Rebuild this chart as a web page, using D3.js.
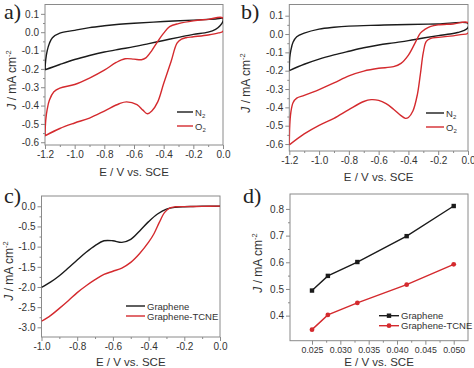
<!DOCTYPE html>
<html><head><meta charset="utf-8">
<script src="https://cdn.jsdelivr.net/npm/d3@7"></script>
<style>body{margin:0;background:#fff}svg{display:block}</style>
</head><body><svg id="c" width="474" height="368"></svg>
<script>
// ---------- DATA ----------
// Panel a (CV, closed loop: forward then backward)
const aN2E = [-1.2,-1.195,-1.185,-1.17,-1.15,-1.1,-1.0,-0.9,-0.8,-0.7,-0.6,-0.4,-0.2,-0.05,0.0, 0.0,-0.02,-0.05,-0.1,-0.2,-0.3,-0.4,-0.5,-0.6,-0.7,-0.8,-0.9,-1.0,-1.1,-1.2];
const aN2J = [-0.205,-0.15,-0.10,-0.06,-0.03,-0.005,0.010,0.025,0.035,0.043,0.049,0.058,0.066,0.072,0.075, 0.06,0.035,0.015,0.0,-0.012,-0.028,-0.045,-0.062,-0.079,-0.093,-0.108,-0.127,-0.149,-0.176,-0.205];
const aO2E = [-1.2,-1.195,-1.185,-1.17,-1.14,-1.1,-1.0,-0.9,-0.8,-0.72,-0.66,-0.6,-0.55,-0.52,-0.48,-0.44,-0.4,-0.36,-0.3,-0.2,-0.1,0.0, 0.0,-0.03,-0.1,-0.2,-0.25,-0.28,-0.31,-0.35,-0.4,-0.44,-0.48,-0.51,-0.54,-0.58,-0.65,-0.7,-0.8,-0.9,-1.0,-1.1,-1.2];
const aO2J = [-0.565,-0.48,-0.42,-0.37,-0.325,-0.305,-0.285,-0.25,-0.207,-0.165,-0.145,-0.147,-0.15,-0.14,-0.10,-0.05,-0.005,0.03,0.047,0.062,0.07,0.078, 0.005,-0.004,-0.015,-0.025,-0.03,-0.038,-0.06,-0.16,-0.28,-0.38,-0.43,-0.445,-0.425,-0.395,-0.38,-0.39,-0.43,-0.468,-0.495,-0.525,-0.565];
// Panel b
const bN2E = [-1.2,-1.197,-1.19,-1.175,-1.15,-1.1,-1.0,-0.9,-0.8,-0.6,-0.4,-0.2,0.0, 0.0,-0.03,-0.07,-0.1,-0.2,-0.3,-0.4,-0.5,-0.6,-0.7,-0.8,-0.9,-1.0,-1.1,-1.2];
const bN2J = [-0.2,-0.13,-0.09,-0.045,-0.015,0.005,0.027,0.037,0.043,0.048,0.052,0.055,0.058, 0.035,0.018,0.008,0.003,-0.009,-0.022,-0.036,-0.048,-0.06,-0.075,-0.094,-0.114,-0.137,-0.165,-0.2];
const bO2E = [-1.2,-1.197,-1.19,-1.175,-1.15,-1.1,-1.0,-0.9,-0.8,-0.7,-0.6,-0.5,-0.45,-0.4,-0.35,-0.32,-0.29,-0.25,-0.2,-0.1,0.0, 0.0,-0.05,-0.1,-0.2,-0.25,-0.28,-0.3,-0.32,-0.34,-0.37,-0.4,-0.42,-0.45,-0.5,-0.55,-0.6,-0.65,-0.7,-0.8,-0.9,-1.0,-1.1,-1.2];
const bO2J = [-0.605,-0.5,-0.43,-0.375,-0.35,-0.335,-0.303,-0.267,-0.228,-0.202,-0.187,-0.178,-0.16,-0.115,-0.04,0.005,0.025,0.042,0.05,0.055,0.062, 0.005,-0.003,-0.01,-0.018,-0.024,-0.04,-0.1,-0.22,-0.33,-0.42,-0.455,-0.46,-0.445,-0.41,-0.38,-0.362,-0.358,-0.368,-0.412,-0.46,-0.498,-0.545,-0.605];
// Panel c (LSV)
const cGE = [-1.0,-0.95,-0.9,-0.85,-0.8,-0.75,-0.7,-0.65,-0.6,-0.55,-0.5,-0.45,-0.4,-0.35,-0.3,-0.25,-0.2,-0.15,-0.1,-0.05,0.0];
const cGJ = [-2.01,-1.88,-1.72,-1.53,-1.33,-1.14,-0.975,-0.855,-0.855,-0.895,-0.82,-0.61,-0.38,-0.19,-0.07,-0.025,-0.01,-0.005,0.0,0.0,0.005];
const cTE = [-1.0,-0.95,-0.9,-0.85,-0.8,-0.75,-0.7,-0.65,-0.6,-0.55,-0.5,-0.45,-0.4,-0.37,-0.34,-0.31,-0.28,-0.25,-0.2,-0.1,0.0];
const cTJ = [-2.85,-2.71,-2.53,-2.34,-2.14,-1.97,-1.82,-1.69,-1.61,-1.53,-1.39,-1.17,-0.89,-0.68,-0.40,-0.15,-0.04,-0.012,-0.008,-0.003,0.005];
// Panel d
const dX = [0.025,0.0278,0.0330,0.0417,0.050];
const dGraphene = [0.494,0.549,0.601,0.698,0.811];
const dTCNE = [0.3475,0.4025,0.4475,0.516,0.5925];
// Ticks
const cvXTicks = [-1.2,-1.0,-0.8,-0.6,-0.4,-0.2,0.0];
const cvYTicks = [0.1,0.0,-0.1,-0.2,-0.3,-0.4,-0.5,-0.6];
const cXTicks = [-1.0,-0.8,-0.6,-0.4,-0.2,0.0];
const cYTicks = [0.0,-0.5,-1.0,-1.5,-2.0,-2.5,-3.0];
const dXTicks = [0.025,0.030,0.035,0.040,0.045,0.050];
const dYTicks = [0.4,0.5,0.6,0.7,0.8];

// ---------- DRAW ----------
const BLACK = '#1b1b1b', RED = '#d42a2e', FRAME = '#8a8a8a', TXT = '#333';
const svg = d3.select('#c');
const FONT = 'Liberation Sans, Arial, sans-serif';

function minorOf(t){ const out=[]; for(let i=0;i<t.length-1;i++) out.push((t[i]+t[i+1])/2); return out; }

function panel(cfg){
  const g = svg.append('g');
  const x = d3.scaleLinear().domain(cfg.xd).range([cfg.x0, cfg.x1]);
  const y = d3.scaleLinear().domain(cfg.yd).range([cfg.y1, cfg.y0]);
  const xm = d3.axisBottom(x).tickValues(minorOf(cfg.xt)).tickSize(2).tickFormat('');
  const ym = d3.axisLeft(y).tickValues(minorOf(cfg.yt)).tickSize(2).tickFormat('');
  const xa = d3.axisBottom(x).tickValues(cfg.xt).tickSize(4).tickPadding(2).tickFormat(cfg.xf);
  const ya = d3.axisLeft(y).tickValues(cfg.yt).tickSize(4).tickPadding(2).tickFormat(cfg.yf);
  [[xm,'b'],[xa,'b'],[ym,'l'],[ya,'l']].forEach(([ax,s])=>{
    const a = g.append('g').attr('transform', s==='b' ? `translate(0,${cfg.y1})` : `translate(${cfg.x0},0)`).call(ax);
    a.select('.domain').remove();
    a.selectAll('line').attr('stroke', FRAME);
    a.selectAll('text').attr('fill', TXT).attr('font-size', s==='b' ? (cfg.xfs||10) : 10).attr('font-family', FONT);
  });
  g.append('rect').attr('x',cfg.x0).attr('y',cfg.y0).attr('width',cfg.x1-cfg.x0).attr('height',cfg.y1-cfg.y0)
    .attr('fill','none').attr('stroke',FRAME).attr('stroke-width',1);
  const clipId = 'clip'+cfg.id;
  g.append('clipPath').attr('id',clipId).append('rect').attr('x',cfg.x0).attr('y',cfg.y0).attr('width',cfg.x1-cfg.x0).attr('height',cfg.y1-cfg.y0);
  const line = d3.line().x(d=>x(d[0])).y(d=>y(d[1])).curve(cfg.curve || d3.curveCatmullRom.alpha(0.5));
  cfg.series.forEach(s=>{
    const pts = s.e.map((e,i)=>[e,s.j[i]]);
    g.append('path').datum(pts).attr('d',line).attr('fill','none').attr('stroke',s.color)
      .attr('stroke-width',1.4).attr('clip-path',`url(#${clipId})`);
    if (s.marker==='square') g.selectAll(null).data(pts).enter().append('rect')
      .attr('x',d=>x(d[0])-2.2).attr('y',d=>y(d[1])-2.2).attr('width',4.4).attr('height',4.4).attr('fill',s.color);
    if (s.marker==='circle') g.selectAll(null).data(pts).enter().append('circle')
      .attr('cx',d=>x(d[0])).attr('cy',d=>y(d[1])).attr('r',2.4).attr('fill',s.color);
  });
  cfg.legend.forEach((l,i)=>{
    const ly = cfg.lg.y + i*cfg.lg.dy;
    g.append('line').attr('x1',cfg.lg.x).attr('x2',cfg.lg.x+cfg.lg.w).attr('y1',ly).attr('y2',ly).attr('stroke',l.color).attr('stroke-width',1.4);
    if (l.marker==='square') g.append('rect').attr('x',cfg.lg.x+cfg.lg.w/2-2.2).attr('y',ly-2.2).attr('width',4.4).attr('height',4.4).attr('fill',l.color);
    if (l.marker==='circle') g.append('circle').attr('cx',cfg.lg.x+cfg.lg.w/2).attr('cy',ly).attr('r',2.4).attr('fill',l.color);
    const t = g.append('text').attr('x',cfg.lg.x+cfg.lg.w+2).attr('y',ly+3.5).attr('font-size',9.5).attr('font-family',FONT).attr('fill',TXT);
    t.append('tspan').text(l.label);
    if (l.sub) t.append('tspan').attr('font-size',6).attr('dy',2.5).text(l.sub);
  });
  g.append('text').attr('x',(cfg.x0+cfg.x1)/2).attr('y',cfg.xtY).attr('text-anchor','middle')
    .attr('font-size',11.5).attr('font-family',FONT).attr('fill',TXT).text('E / V vs. SCE');
  const yt = g.append('text').attr('transform',`translate(${cfg.ytX},${cfg.ytY}) rotate(-90)`).attr('text-anchor','middle')
    .attr('font-size',12).attr('font-family',FONT).attr('fill',TXT);
  yt.append('tspan').attr('font-style','italic').text('J');
  yt.append('tspan').text(' / mA cm');
  yt.append('tspan').attr('font-size',7.5).attr('dy',-5).text('-2');
  g.append('text').attr('x',cfg.lab[0]).attr('y',cfg.lab[1]).attr('font-size',22)
    .attr('font-family','Liberation Serif, DejaVu Serif, serif').attr('fill','#222').text(cfg.label);
}

const f1 = v => v.toFixed(1), f3 = v => v.toFixed(3);

panel({id:'a', label:'a)', lab:[4,19], x0:45, x1:223, y0:4.5, y1:145, xd:[-1.2,0], yd:[-0.615,0.151],
  xt:cvXTicks, yt:cvYTicks, xf:f1, yf:f1, xtY:176, ytX:16, ytY:80,
  series:[{e:aN2E,j:aN2J,color:BLACK},{e:aO2E,j:aO2J,color:RED}],
  legend:[{label:'N',sub:'2',color:BLACK},{label:'O',sub:'2',color:RED}], lg:{x:177,y:112,dy:14,w:16}});

panel({id:'b', label:'b)', lab:[241,19], x0:289.3, x1:468, y0:4.5, y1:151, xd:[-1.2,0], yd:[-0.638,0.161],
  xt:cvXTicks, yt:cvYTicks, xf:f1, yf:f1, xtY:181, ytX:250, ytY:83,
  series:[{e:bN2E,j:bN2J,color:BLACK},{e:bO2E,j:bO2J,color:RED}],
  legend:[{label:'N',sub:'2',color:BLACK},{label:'O',sub:'2',color:RED}], lg:{x:426,y:113,dy:14,w:18}});

panel({id:'c', label:'c)', lab:[4,203], x0:41.5, x1:220, y0:196, y1:337, xd:[-1,0], yd:[-3.24,0.255],
  xt:cXTicks, yt:cYTicks, xf:f1, yf:f1, xtY:366, ytX:13, ytY:271,
  series:[{e:cGE,j:cGJ,color:BLACK},{e:cTE,j:cTJ,color:RED}],
  legend:[{label:'Graphene',color:BLACK},{label:'Graphene-TCNE',color:RED}], lg:{x:126,y:306,dy:10,w:19}});

panel({id:'d', label:'d)', lab:[243,203], x0:290, x1:468, y0:194, y1:340.7, xd:[0.02112,0.05252], yd:[0.306,0.856],
  xt:dXTicks, yt:dYTicks, xf:f3, yf:f1, xfs:8.8, xtY:366, ytX:262, ytY:263, curve:d3.curveLinear,
  series:[{e:dX,j:dGraphene,color:BLACK,marker:'square'},{e:dX,j:dTCNE,color:RED,marker:'circle'}],
  legend:[{label:'Graphene',color:BLACK,marker:'square'},{label:'Graphene-TCNE',color:RED,marker:'circle'}], lg:{x:379,y:315.7,dy:10,w:20}});
</script></body></html>
